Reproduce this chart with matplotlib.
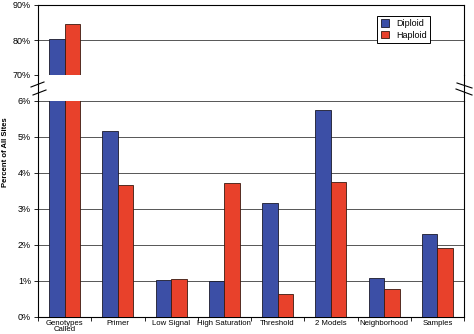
import matplotlib
matplotlib.use("Agg")
import matplotlib.pyplot as plt
import numpy as np
from matplotlib.lines import Line2D

plt.rcParams['font.family'] = ['Liberation Sans', 'DejaVu Sans']

categories = ["Genotypes\nCalled", "Primer", "Low Signal", "High Saturation",
              "Threshold", "2 Models", "Neighborhood", "Samples"]
diploid = [80.3, 5.18, 1.04, 0.99, 3.17, 5.75, 1.09, 2.30]
haploid = [84.5, 3.68, 1.05, 3.73, 0.63, 3.75, 0.79, 1.91]
top_ticks = [70, 80, 90]
bot_ticks = [0, 1, 2, 3, 4, 5, 6]

BLUE = "#3c4fa6"
RED = "#e8412b"
W, H = 474, 334
fig = plt.figure(figsize=(W/100, H/100), dpi=100)

L, R = 38/W, 464/W
ax_top = fig.add_axes([L, 1-75/H, R-L, 70/H])
ax_bot = fig.add_axes([L, 1-317/H, R-L, (317-101)/H])

x = np.arange(len(categories))
bw = 0.29
for ax in (ax_top, ax_bot):
    ax.bar(x - bw/2, diploid, bw, color=BLUE, edgecolor="#1a1a2a", linewidth=0.6, label="Diploid", zorder=3)
    ax.bar(x + bw/2, haploid, bw, color=RED, edgecolor="#3a1a10", linewidth=0.6, label="Haploid", zorder=3)
    ax.set_xlim(-0.5, len(categories)-0.5)
    ax.grid(axis='y', color="#555555", linewidth=0.7, zorder=1)
    ax.tick_params(axis='y', direction='out', length=3, width=0.6, labelsize=6.5, pad=2)
    for s in ax.spines.values():
        s.set_linewidth(0.8)

ax_top.set_ylim(70, 90)
ax_top.set_yticks(top_ticks)
ax_top.set_yticklabels([f"{t}%" for t in top_ticks])
ax_top.set_xticks([])
ax_top.spines['bottom'].set_visible(False)

ax_bot.set_ylim(0, 6)
ax_bot.set_yticks(bot_ticks)
ax_bot.set_yticklabels([f"{t}%" for t in bot_ticks])
ax_bot.spines['top'].set_visible(False)
ax_bot.set_xticks(x)
ax_bot.set_xticklabels(categories, fontsize=5.6, linespacing=0.8)
ax_bot.tick_params(axis='x', length=0, pad=2)
ax_bot.set_xticks(np.arange(len(categories)+1) - 0.5, minor=True)
ax_bot.tick_params(axis='x', which='minor', direction='out', length=3, width=0.6)

# spines across the gap
for xf in (L, R):
    fig.add_artist(Line2D([xf, xf], [1-101/H, 1-75/H], color='black', linewidth=0.8))

# break marks
def brk(x0, y0, x1, y1):
    fig.add_artist(Line2D([x0/W, x1/W], [1-y0/H, 1-y1/H], color='black', linewidth=0.8))
# left: rising to the right
brk(31, 87, 44, 82)
brk(33, 95, 46, 90)
# right: falling to the right
brk(457, 83, 472, 88)
brk(456, 89, 472, 95)

leg = ax_top.legend(loc='upper right', bbox_to_anchor=(435/W, 1-11/H),
                    bbox_transform=fig.transFigure, fontsize=6.5, frameon=True,
                    fancybox=False, edgecolor='black', framealpha=1,
                    handlelength=0.9, handleheight=0.9, handletextpad=0.8,
                    borderpad=0.4, labelspacing=0.3)
leg.get_frame().set_linewidth(0.7)

fig.text(6/W, 1-152/H, "Percent of All Sites", rotation=90, fontsize=5.5,
         fontweight='bold', ha='center', va='center')

fig.savefig("out.png", dpi=100)
